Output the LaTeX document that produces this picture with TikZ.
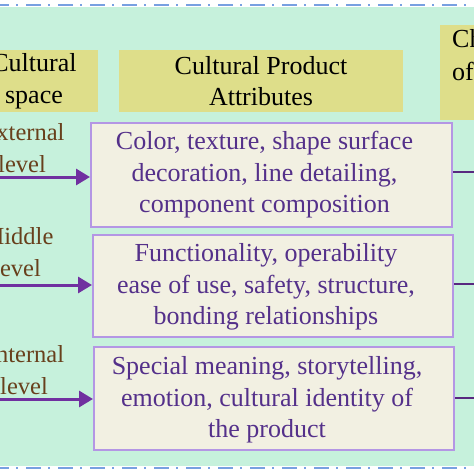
\documentclass[tikz,border=0pt]{standalone}
\usepackage{fontspec}
\setmainfont{Liberation Serif}
\usetikzlibrary{arrows.meta}
\definecolor{mint}{RGB}{198,241,220}
\definecolor{dashblue}{RGB}{120,160,225}
\definecolor{olive}{RGB}{222,222,138}
\definecolor{cream}{RGB}{242,240,226}
\definecolor{lav}{RGB}{180,150,228}
\definecolor{boxtext}{RGB}{84,48,138}
\definecolor{arrowc}{RGB}{112,48,160}
\definecolor{linec}{RGB}{88,40,128}
\definecolor{brownc}{RGB}{104,64,28}
\tikzset{
  headbox/.style={fill=olive, draw=none, inner sep=0pt},
  attrbox/.style={fill=cream, draw=lav, line width=2pt, inner sep=0pt},
  attrtext/.style={text=boxtext, align=center, font=\fontsize{26}{31.5}\selectfont, inner sep=0pt},
  headtext/.style={text=black, align=center, font=\fontsize{26}{31.5}\selectfont, inner sep=0pt},
  lbl/.style={text=brownc, anchor=base, font=\fontsize{24.5}{30}\selectfont, inner sep=0pt},
  inarrow/.style={draw=arrowc, line width=3pt, -{Triangle[length=14pt,width=16pt]}},
  outline/.style={draw=linec, line width=2.5pt},
  dashline/.style={draw=dashblue, line width=1.6pt, dash pattern=on 15pt off 7pt on 2pt off 8pt}
}
\begin{document}
\begin{tikzpicture}[x=1pt,y=-1pt]
\useasboundingbox (0,0) rectangle (474,474);
\clip (0,0) rectangle (474,474);
\fill[white] (0,0) rectangle (474,474);
\fill[mint] (0,7) rectangle (474,466);
\draw[dashline] (-6,5) -- (480,5);
\draw[dashline] (-6,468) -- (480,468);
% headers
\node[headbox, minimum width=128pt, minimum height=62pt] (h1) at (34,81) {};
\node[headtext] (h1t) at (h1.center) {Cultural\\space};
\node[headbox, minimum width=284pt, minimum height=62pt] (h2) at (261,81) {};
\node[headtext] (h2t) at (h2.center) {Cultural Product\\Attributes};
\node[headbox, minimum width=80pt, minimum height=95pt] (h3) at (480,72.5) {};
\node[headtext, anchor=base west] (h3a) at (452,47) {Ch};
\node[headtext, anchor=base west] (h3b) at (452,80) {of};
% attribute boxes
\node[attrbox, minimum width=361pt, minimum height=104pt] (b1) at (271.5,175) {};
\node[attrtext] (t1) at (264.5,175) {Color, texture, shape surface\\decoration, line detailing,\\component composition};
\node[attrbox, minimum width=360pt, minimum height=102pt] (b2) at (273,286) {};
\node[attrtext] (t2) at (266,287) {Functionality, operability\\ease of use, safety, structure,\\bonding relationships};
\node[attrbox, minimum width=360pt, minimum height=103pt] (b3) at (274,398.5) {};
\node[attrtext] (t3) at (267,400) {Special meaning, storytelling,\\emotion, cultural identity of\\the product};
% left labels
\node[lbl] (l1a) at (23,140) {External};
\node[lbl] (l1b) at (22,172) {level};
\node[lbl] (l2a) at (18,244) {Middle};
\node[lbl] (l2b) at (17,276) {level};
\node[lbl] (l3a) at (26,362) {Internal};
\node[lbl] (l3b) at (24,394) {level};
% arrows in
\coordinate (a1) at (-2,177);
\coordinate (a2) at (-2,285);
\coordinate (a3) at (-2,399);
\draw[inarrow] (a1) -- (a1 -| b1.west);
\draw[inarrow] (a2) -- (a2 -| b2.west);
\draw[inarrow] (a3) -- (a3 -| b3.west);
% lines out
\coordinate (o1) at (478,172);
\coordinate (o2) at (478,284);
\coordinate (o3) at (478,398);
\draw[outline] (o1 -| b1.east) -- (o1);
\draw[outline] (o2 -| b2.east) -- (o2);
\draw[outline] (o3 -| b3.east) -- (o3);
\end{tikzpicture}
\end{document}
